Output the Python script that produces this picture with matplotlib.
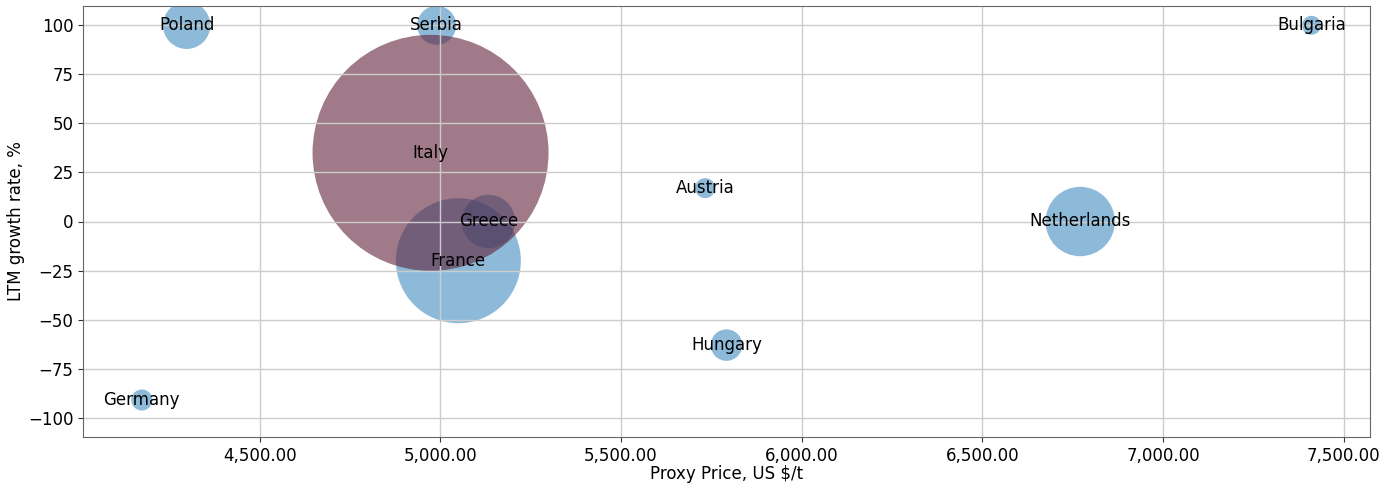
import matplotlib
matplotlib.use("Agg")
import matplotlib.pyplot as plt
from matplotlib.ticker import FuncFormatter

countries = ["Poland", "Serbia", "Bulgaria", "Austria", "Greece",
             "Netherlands", "France", "Hungary", "Germany"]
proxy_price = [4298, 4990, 7411, 5733, 5133, 6771, 5050, 5792, 4174]
growth_rate = [100, 100, 100, 17, 0, 0, -20, -63, -91]
bubble_size = [1160, 788, 187, 207, 1484, 2497, 8100, 514, 229]

highlight_country = "Italy"
highlight_price = 4973
highlight_growth = 35
highlight_size = 28870

x_ticks = [4500, 5000, 5500, 6000, 6500, 7000, 7500]
y_ticks = [-100, -75, -50, -25, 0, 25, 50, 75, 100]

plt.rcParams["font.size"] = 12

fig = plt.figure(figsize=(13.97, 4.83), dpi=100)
ax = fig.add_axes([83.3 / 1397, 45.7 / 483, (1370 - 83.3) / 1397, (437.3 - 5.7) / 483])

ax.scatter(proxy_price, growth_rate, s=bubble_size, color="#1f77b4", alpha=0.5,
           edgecolors="none")
ax.scatter([highlight_price], [highlight_growth], s=[highlight_size], color="#612139",
           alpha=0.6, edgecolors="none")

for name, x, y in zip(countries, proxy_price, growth_rate):
    ax.text(x, y, name, ha="center", va="center", fontsize=12)
ax.text(highlight_price, highlight_growth, highlight_country, ha="center",
        va="center", fontsize=12)

ax.set_xlim(4012, 7573)
ax.set_ylim(-110, 110)
ax.set_xticks(x_ticks)
ax.set_yticks(y_ticks)
ax.xaxis.set_major_formatter(FuncFormatter(lambda v, p: f"{v:,.2f}"))
ax.grid(True, color="#cccccc", linewidth=1.0)
for sp in ax.spines.values():
    sp.set_color("#666666")
ax.tick_params(colors="#333333", labelcolor="black")
ax.set_xlabel("Proxy Price, US $/t", labelpad=0)
ax.set_ylabel("LTM growth rate, %", labelpad=2)

fig.savefig("out.png", dpi=100)
